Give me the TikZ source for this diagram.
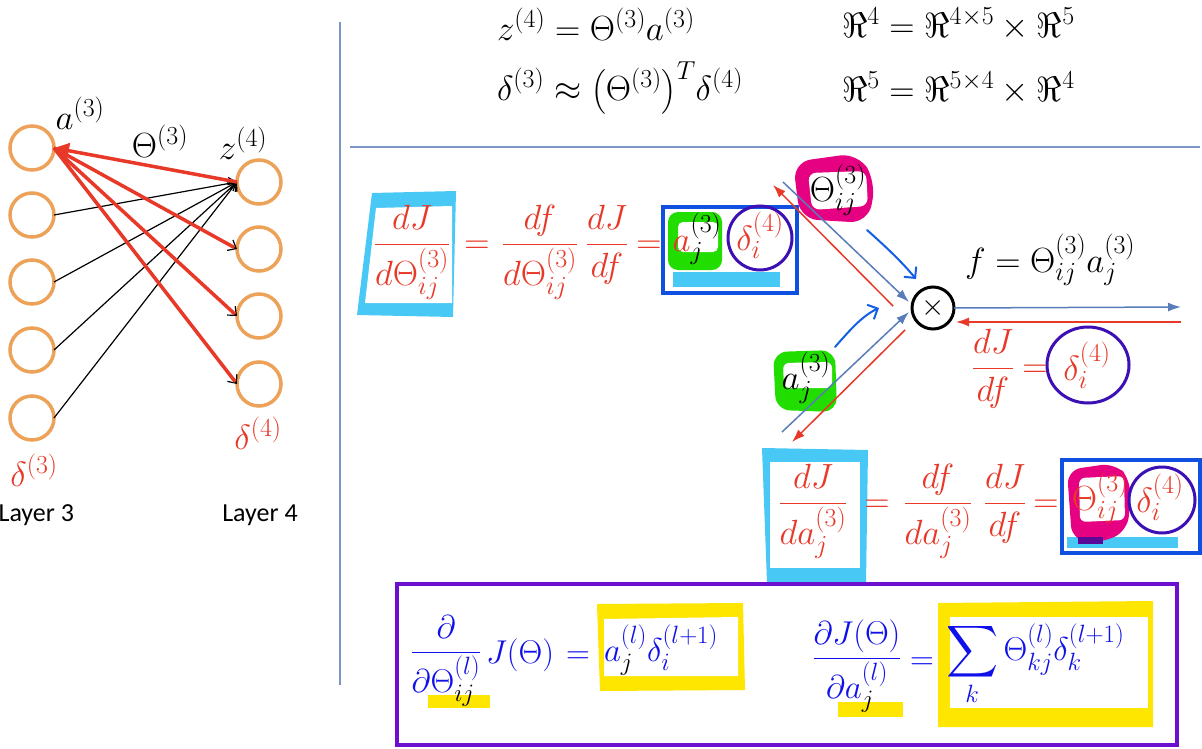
\RequirePackage{fix-cm}
\documentclass[tikz,border=0pt]{standalone}
\usepackage{amsmath}
\usepackage{graphicx}
\usepackage{fontspec}
\newfontfamily\layerfont{Carlito}
\usetikzlibrary{arrows.meta,shapes.geometric}
\DeclareMathSizes{35}{35}{26}{20}
\DeclareMathSizes{33}{33}{25}{19}
\definecolor{orng}{RGB}{237,162,90}
\definecolor{redc}{RGB}{232,56,40}
\definecolor{steel}{RGB}{88,125,185}
\definecolor{handblue}{RGB}{20,95,230}
\definecolor{lblue}{RGB}{72,200,245}
\definecolor{boxblue}{RGB}{16,80,225}
\definecolor{purp}{RGB}{60,16,180}
\definecolor{grn}{RGB}{34,221,0}
\definecolor{mag}{RGB}{230,0,130}
\definecolor{yel}{RGB}{255,230,0}
\definecolor{boxpurp}{RGB}{108,16,208}
\definecolor{fblue}{RGB}{16,16,235}
\definecolor{sepc}{RGB}{125,150,195}
\definecolor{darkp}{RGB}{90,10,150}
\begin{document}
\begin{tikzpicture}[x=1pt,y=-1pt,
  every node/.style={inner sep=0pt,outer sep=0pt},
  neuron/.style={circle,draw=orng,line width=3.5pt,minimum size=44pt},
  eq/.style={font=\fontsize{35}{40}\selectfont},
  beq/.style={font=\fontsize{33}{38}\selectfont,text=fblue},
  lbl/.style={font=\layerfont\fontsize{26}{30}\selectfont},
  sepline/.style={draw=sepc,line width=1.2pt},
  blkarrow/.style={draw=black,line width=1.2pt,-{Straight Barb[length=7pt,width=12pt]}},
  redline/.style={draw=redc,line width=3.5pt},
  steelarrow/.style={draw=steel,line width=1.5pt,-{Latex[length=13pt,width=9pt]}},
  redarrow/.style={draw=redc,line width=1.5pt,-{Latex[length=13pt,width=9pt]}},
  handarrow/.style={draw=handblue,line width=2pt,line cap=round,-{Straight Barb[length=8pt,width=16pt]}},
  ring/.style={circle,draw=purp,line width=3pt},
  frame/.style={draw=boxblue,line width=4pt}]
\useasboundingbox (0,0) rectangle (1202,749);
\fill[white] (0,0) rectangle (1202,749);

% separators
\draw[sepline] (340,22) -- (340,685);
\draw[sepline] (350,147) -- (1200,147);

% ---------------- network ----------------
\foreach \i/\y in {1/148,2/215,3/282,4/350,5/418}
  \node[neuron] (l3\i) at (32,\y) {};
\foreach \i/\y in {1/182,2/249,3/316,4/384}
  \node[neuron] (l4\i) at (259,\y) {};
\foreach \i in {2,3,4,5}
  \draw[blkarrow] (l3\i.east) -- (l41.west);
\foreach \j in {2,3,4}{
  \draw[blkarrow] (l31.east) -- (l4\j.west);
  \draw[redline,shorten >=3pt] (l31.east) -- (l4\j.west);
}
\draw[redline,-{Triangle[length=15pt,width=15pt]}] (l41.west) -- (l31.east);
\node[eq] (la3) at (80,113) {$a^{(3)}$};
\node[eq] (lth) at (160,141) {$\Theta^{(3)}$};
\node[eq] (lz4) at (243,143) {$z^{(4)}$};
\node[eq,text=redc] (ld4) at (258,433) {$\delta^{(4)}$};
\node[eq,text=redc] (ld3) at (34,470) {$\delta^{(3)}$};
\node[lbl,anchor=east] (lay3) at (74,515) {Layer 3};
\node[lbl] (lay4) at (260,515) {Layer 4};

% ---------------- top equations ----------------
\node[eq,anchor=west] (e1) at (497,24) {$z^{(4)}=\Theta^{(3)}a^{(3)}$};
\node[eq,anchor=west] (e2) at (497,88) {$\delta^{(3)}\approx\bigl(\Theta^{(3)}\bigr)^{T}\delta^{(4)}$};
\node[eq,anchor=west] (r1) at (842,24) {$\Re^{4}=\Re^{4\times5}\times\Re^{5}$};
\node[eq,anchor=west] (r2) at (842,88) {$\Re^{5}=\Re^{5\times4}\times\Re^{4}$};

% ---------------- highlights ----------------
\fill[lblue] (372,193) -- (456,191) -- (453,317) -- (357,315) -- cycle;
\fill[white] (376,208) -- (452,206) -- (452,303) -- (365,303) -- cycle;
\fill[grn,rounded corners=10pt] (668,212) rectangle (722,270);
\fill[white,rounded corners=5pt] (678,222) rectangle (718,252);
\fill[lblue] (673,272) rectangle (780,287);
\fill[mag,rounded corners=18pt] (793,162) -- (858,153) -- (876,182) -- (868,223) -- (800,219) -- cycle;
\fill[white,rounded corners=8pt] (808,173) -- (866,171) -- (868,206) -- (812,210) -- cycle;
\fill[grn,rounded corners=14pt] (773,352) -- (835,350) -- (837,412) -- (776,410) -- cycle;
\fill[white,rounded corners=6pt] (783,363) -- (832,362) -- (832,388) -- (784,388) -- cycle;
\fill[lblue] (762,448) -- (868,450) -- (866,583) -- (767,583) -- cycle;
\fill[white] (770,462) -- (860,462) -- (860,568) -- (770,568) -- cycle;
\fill[lblue] (1067,537) rectangle (1178,548);
\fill[mag,rounded corners=14pt] (1067,470) -- (1115,463) -- (1131,480) -- (1128,530) -- (1102,543) -- (1072,540) -- cycle;
\fill[white,rounded corners=6pt] (1079,478) -- (1124,476) -- (1125,520) -- (1080,522) -- cycle;
\fill[darkp] (1078,537) rectangle (1103,544);
\fill[yel] (597,604) -- (743,603) -- (745,690) -- (600,691) -- cycle;
\fill[white] (604,619) -- (738,617) -- (738,676) -- (604,676) -- cycle;
\fill[yel] (428,695) rectangle (490,708);
\fill[yel] (938,603) -- (1153,601) -- (1153,727) -- (938,727) -- cycle;
\fill[white] (950,617) -- (1148,617) -- (1148,708) -- (950,708) -- cycle;
\fill[yel] (838,702) rectangle (903,717);

% frames
\draw[frame] (663,207) rectangle (797,293);
\draw[frame] (1062,460) rectangle (1200,553);
\draw[draw=boxpurp,line width=4.5pt] (397,584) rectangle (1177,745);

% ---------------- upper derivative ----------------
\node[eq,text=redc,anchor=base] (f1) at (412,253) {$\dfrac{dJ}{d\Theta^{(3)}_{ij}}$};
\node[eq,text=redc,anchor=base] (q1) at (477,253) {$=$};
\node[eq,text=redc,anchor=base] (f2) at (540,253) {$\dfrac{df}{d\Theta^{(3)}_{ij}}$};
\node[eq,text=redc,anchor=base] (f3) at (607,253) {$\dfrac{dJ}{df}$};
\node[eq,text=redc,anchor=base] (q2) at (649,253) {$=$};
\node[eq,text=redc,anchor=base] (aj1) at (697,251) {$a^{\textcolor{black}{(3)}}_{\textcolor{black}{j}}$};
\node[ring,minimum size=64pt] (c1) at (760,238) {};
\node[eq,text=redc,anchor=base] (d1) at (760,250) {$\delta^{(4)}_{i}$};

% ---------------- multiplication gate ----------------
\node[circle,draw=black,line width=3pt,minimum size=42pt] (ot) at (933,308) {};
\node[font=\fontsize{30}{30}\selectfont] (otx) at (933,308) {$\times$};
\node[eq] (th) at (838,190) {$\Theta^{(3)}_{ij}$};
\node[eq] (aj2) at (806,378) {$a^{(3)}_{j}$};
\coordinate (tb1) at (783,182);
\coordinate (tb2) at (909,302);
\coordinate (tr1) at (893,306);
\coordinate (tr2) at (773,185);
\coordinate (bb1) at (782,432);
\coordinate (bb2) at (909,312);
\coordinate (br1) at (905,330);
\coordinate (br2) at (792,442);
\coordinate (rb) at (1181,307);
\coordinate (rr) at (1181,322);
\coordinate (rt) at (956,322);
\draw[steelarrow] (tb1) -- (tb2);
\draw[redarrow] (tr1) -- (tr2);
\draw[steelarrow] (bb1) -- (bb2);
\draw[redarrow] (br1) -- (br2);
\draw[steelarrow] (ot.east) -- (rb);
\draw[redarrow] (rr) -- (rt);
\coordinate (h1a) at (867,230);
\coordinate (h1b) at (916,279);
\coordinate (h2a) at (835,347);
\coordinate (h2b) at (879,308);
\draw[handarrow] (h1a) .. controls (885,246) and (902,262) .. (h1b);
\draw[handarrow] (h2a) .. controls (850,330) and (862,316) .. (h2b);
\node[eq,anchor=base west] (feq) at (965,272) {$f=\Theta^{(3)}_{ij}a^{(3)}_{j}$};
\node[eq,text=redc,anchor=base] (f4) at (993,377) {$\dfrac{dJ}{df}$};
\node[eq,text=redc,anchor=base] (q3) at (1035,377) {$=$};
\node[ellipse,draw=purp,line width=3pt,minimum width=82pt,minimum height=76pt] (c2) at (1088,365) {};
\node[eq,text=redc,anchor=base] (d2) at (1087,380) {$\delta^{(4)}_{i}$};

% ---------------- lower derivative ----------------
\node[eq,text=redc,anchor=base] (f5) at (813,512) {$\dfrac{dJ}{da^{(3)}_{j}}$};
\node[eq,text=redc,anchor=base] (q4) at (877,512) {$=$};
\node[eq,text=redc,anchor=base] (f6) at (938,512) {$\dfrac{df}{da^{(3)}_{j}}$};
\node[eq,text=redc,anchor=base] (f7) at (1005,512) {$\dfrac{dJ}{df}$};
\node[eq,text=redc,anchor=base] (q5) at (1046,512) {$=$};
\node[eq,text=redc,anchor=base] (th2) at (1100,510) {$\Theta^{(3)}_{ij}$};
\node[ring,minimum size=66pt] (c3) at (1162,500) {};
\node[eq,text=redc,anchor=base] (d3) at (1160,512) {$\delta^{(4)}_{i}$};

% ---------------- summary box ----------------
\node[beq,anchor=base] (g1) at (446,661) {$\dfrac{\partial}{\partial\Theta^{(l)}_{\textcolor{black}{ij}}}$};
\node[beq,anchor=base west] (g2) at (486,663) {$J(\Theta)$};
\node[beq,anchor=base] (g3) at (578,663) {$=$};
\node[beq,anchor=base west] (g4) at (604,661) {$a^{(l)}_{\textcolor{black}{j}}\delta^{(l+1)}_{i}$};
\node[beq,anchor=base] (g5) at (857,667) {$\dfrac{\partial J(\Theta)}{\partial a^{(l)}_{\textcolor{black}{j}}}$};
\node[beq,anchor=base] (g6) at (922,669) {$=$};
\node[beq,anchor=west] (g7) at (946,664) {$\mathop{\vcenter{\hbox{\scalebox{1.45}{$\displaystyle\sum$}}}}\limits_{k}\Theta^{(l)}_{kj}\delta^{(l+1)}_{k}$};
\end{tikzpicture}
\end{document}
